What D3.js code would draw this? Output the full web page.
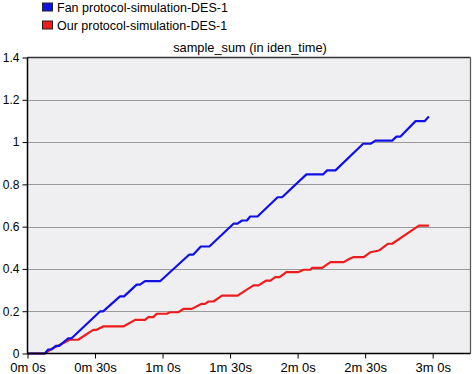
<!DOCTYPE html>
<html>
<head>
<meta charset="utf-8">
<script src="https://cdn.jsdelivr.net/npm/d3@7"></script>
<style>
  body { margin: 0; background: #fff; }
  svg text { font-family: Arial, "Liberation Sans", sans-serif; font-size: 12.5px; fill: #000; }
</style>
</head>
<body>
<script>
// series names and colours
var seriesNames = ['Fan protocol-simulation-DES-1', 'Our protocol-simulation-DES-1'];
var seriesColors = ['#1010e8', '#ee1c1c'];

// time in seconds
var fanTime = [0, 7.7, 9.2, 10.7, 12.6, 14.1, 18.1, 19.6, 32.2, 33.6, 41.1, 42.9, 48.5, 50.0, 52.2, 58.9,
  71.9, 73.7, 77.0, 80.8, 91.5, 93.3, 95.3, 97.5, 98.9, 102.2, 111.1, 113.1, 123.9, 131.3, 133.1, 136.8,
  149.1, 152.4, 154.6, 162.0, 163.9, 165.7, 172.4, 176.4, 178.3];
var fanValue = [0, 0, 0.019, 0.019, 0.036, 0.036, 0.072, 0.072, 0.199, 0.199, 0.270, 0.270, 0.326, 0.326, 0.342, 0.342,
  0.468, 0.468, 0.506, 0.506, 0.614, 0.614, 0.629, 0.629, 0.648, 0.648, 0.739, 0.739, 0.847, 0.847, 0.866, 0.866,
  0.992, 0.992, 1.007, 1.007, 1.026, 1.026, 1.099, 1.099, 1.121];

var ourTime = [0, 7.7, 10.7, 12.9, 18.8, 22.5, 29.2, 30.7, 33.6, 42.6, 47.8, 52.2, 53.7, 55.9, 57.4, 61.9,
  63.3, 67.0, 69.3, 73.0, 77.4, 78.9, 80.4, 82.6, 86.4, 93.3, 100.4, 102.6, 106.1, 107.9, 110.1, 112.0,
  115.0, 120.4, 122.7, 125.7, 126.4, 130.9, 134.6, 140.5, 143.1, 144.9, 149.4, 152.4, 156.1, 160.1, 162.0,
  173.9, 178.3];
var ourValue = [0, 0, 0.022, 0.033, 0.065, 0.065, 0.112, 0.112, 0.128, 0.128, 0.159, 0.159, 0.172, 0.172, 0.188, 0.188,
  0.195, 0.195, 0.211, 0.211, 0.235, 0.235, 0.246, 0.246, 0.274, 0.274, 0.322, 0.322, 0.345, 0.345, 0.361, 0.361,
  0.385, 0.385, 0.396, 0.396, 0.405, 0.405, 0.432, 0.432, 0.448, 0.456, 0.456, 0.479, 0.487, 0.519, 0.519,
  0.605, 0.605];

var yTicks = [0, 0.2, 0.4, 0.6, 0.8, 1, 1.2, 1.4];
var xTicks = [0, 30, 60, 90, 120, 150, 180];
var xTickLabels = ['0m 0s', '0m 30s', '1m 0s', '1m 30s', '2m 0s', '2m 30s', '3m 0s'];

var W = 474, H = 374;
var plotLeft = 27.5, plotRight = 470.5, plotTop = 57.5, plotBottom = 353.5;

var svg = d3.select('body').append('svg')
  .attr('width', W)
  .attr('height', H);

var x = d3.scaleLinear().domain([0, 196.8]).range([plotLeft, plotRight]);
var y = d3.scaleLinear().domain([0, 1.4]).range([plotBottom, plotTop]);

// plot background
svg.append('rect')
  .attr('x', plotLeft).attr('y', plotTop)
  .attr('width', plotRight - plotLeft).attr('height', plotBottom - plotTop)
  .style('fill', '#efeff1');

// horizontal grid lines
svg.append('g')
  .selectAll('line')
  .data(yTicks.filter(function(d) { return d > 0 && d < 1.4; }))
  .enter().append('line')
    .attr('x1', plotLeft).attr('x2', plotRight)
    .attr('y1', function(d) { return Math.round(y(d)) + 0.5; })
    .attr('y2', function(d) { return Math.round(y(d)) + 0.5; })
    .style('stroke', '#9a9a9a')
    .style('stroke-width', 1.2);

// frame: top and right
svg.append('line')
  .attr('x1', plotLeft).attr('x2', plotRight).attr('y1', plotTop).attr('y2', plotTop)
  .style('stroke', '#333').style('stroke-width', 1.5);
svg.append('line')
  .attr('x1', plotRight).attr('x2', plotRight).attr('y1', plotTop).attr('y2', plotBottom)
  .style('stroke', '#555').style('stroke-width', 1.2);

// title
svg.append('text')
  .attr('x', (plotLeft + plotRight) / 2 + 1)
  .attr('y', 52)
  .attr('text-anchor', 'middle')
  .style('font-size', '12.8px')
  .text('sample_sum (in iden_time)');

// lines
var line = d3.line()
  .x(function(d) { return x(d[0]); })
  .y(function(d) { return y(d[1]); });

var series = [
  d3.zip(fanTime, fanValue),
  d3.zip(ourTime, ourValue)
];

// draw red first so blue is on top
[1, 0].forEach(function(i) {
  svg.append('path')
    .datum(series[i])
    .attr('d', line)
    .style('fill', 'none')
    .style('stroke', seriesColors[i])
    .style('stroke-width', 2.2)
    .style('stroke-linejoin', 'round');
});

// axes
var yAxis = d3.axisLeft(y)
  .tickValues(yTicks)
  .tickSize(5)
  .tickPadding(3)
  .tickFormat(function(d) { return d3.format('')(+d.toFixed(1)); });

var gy = svg.append('g')
  .attr('transform', 'translate(' + plotLeft + ',0)')
  .call(yAxis);

var xAxis = d3.axisBottom(x)
  .tickValues(xTicks)
  .tickSize(5)
  .tickPadding(4)
  .tickFormat(function(d, i) { return xTickLabels[i]; });

var gx = svg.append('g')
  .attr('transform', 'translate(0,' + plotBottom + ')')
  .call(xAxis);

[gx, gy].forEach(function(g) {
  g.select('.domain').style('stroke', '#000').style('stroke-width', 1.5);
  g.selectAll('.tick line').style('stroke', '#000');
  g.selectAll('text')
    .style('font-family', 'Arial, "Liberation Sans", sans-serif')
    .style('fill', '#000');
});
gy.selectAll('text').style('font-size', '12px');
gx.selectAll('text').style('font-size', '13px');
gx.select('.domain').attr('d', 'M' + plotLeft + ',0H' + plotRight);
gy.select('.domain').attr('d', 'M0,' + plotTop + 'V' + plotBottom);

// legend
var legend = svg.append('g')
  .selectAll('g')
  .data(seriesNames)
  .enter().append('g')
    .attr('transform', function(d, i) { return 'translate(42,' + (2.5 + i * 18) + ')'; });

legend.append('rect')
  .attr('x', 0.5).attr('y', 0.5)
  .attr('width', 10).attr('height', 8)
  .style('fill', function(d, i) { return seriesColors[i]; })
  .style('stroke', '#222')
  .style('stroke-width', 1);

legend.append('text')
  .attr('x', 15)
  .attr('y', 9)
  .text(function(d) { return d; });
</script>
</body>
</html>
